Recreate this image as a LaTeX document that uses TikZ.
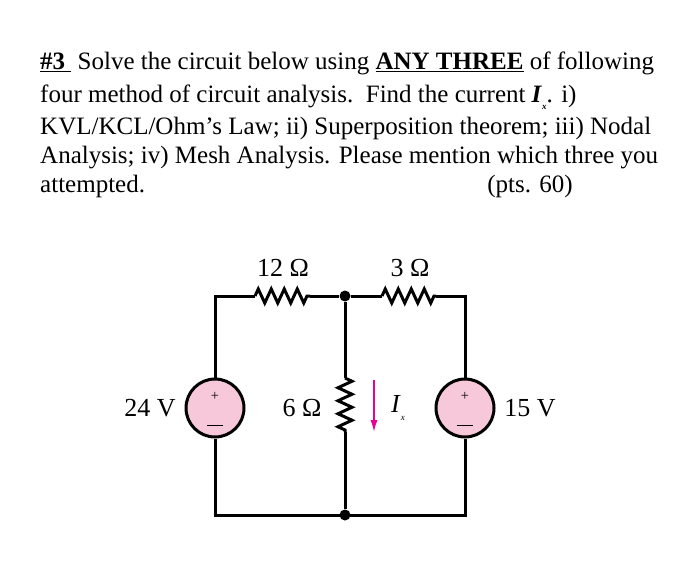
\documentclass[tikz,border=0pt]{standalone}
\usepackage{fontspec}
\setmainfont{Liberation Serif}
\usetikzlibrary{decorations.pathmorphing,arrows.meta}
\definecolor{srcpink}{RGB}{246,200,218}
\tikzset{
  txt/.style={anchor=base west,inner sep=0pt,font=\fontsize{25}{30}\selectfont},
  lbl/.style={inner sep=0pt,font=\fontsize{26}{30}\selectfont},
  wire/.style={line width=3pt},
  res/.style={line width=3pt,decorate,decoration={zigzag,segment length=13pt,amplitude=7pt}},
  src/.style={circle,draw,line width=3pt,fill=srcpink,minimum size=58pt,inner sep=0pt},
  dot/.style={circle,fill=black,minimum size=11pt,inner sep=0pt}
}
\begin{document}
\begin{tikzpicture}[x=1pt,y=-1pt]
\useasboundingbox (0,0) rectangle (700,577);
\node[txt] (l1) at (40,70) {\underline{\textbf{\#3\ }} Solve the circuit below using \underline{\textbf{ANY THREE}} of following};
\node[txt] (l2) at (40,103) {four method of circuit analysis.\ \ Find the current \textbf{\textit{I}}\raisebox{-0.25em}{\small\textbf{\textit{x}}}. i)};
\node[txt] (l3) at (40,135) {KVL/KCL/Ohm's Law; ii) Superposition theorem; iii) Nodal};
\node[txt] (l4) at (40,164) {Analysis; iv) Mesh Analysis. Please mention which three you};
\node[txt] (l5) at (40,193) {attempted.};
\node[txt,anchor=base east] (l6) at (573,193) {(pts. 60)};
% junctions
\coordinate (tl) at (215,296);
\coordinate (tr) at (465,296);
\coordinate (bl) at (215,515);
\coordinate (br) at (465,515);
\node[dot] (tm) at (345,296) {};
\node[dot] (bm) at (345,515) {};
\node[src] (v1) at (215,408) {};
\node[src] (v2) at (465,408) {};
\node[font=\Large] at ([yshift=12pt]v1.center) {+};
\node[font=\Large] at ([yshift=12pt]v2.center) {+};
\draw[line width=1pt] ([xshift=-8pt,yshift=-17pt]v1.center) -- ([xshift=8pt,yshift=-17pt]v1.center);
\draw[line width=1pt] ([xshift=-8pt,yshift=-17pt]v2.center) -- ([xshift=8pt,yshift=-17pt]v2.center);
\coordinate (r1a) at (255,296); \coordinate (r1b) at (310,296);
\coordinate (r2a) at (382,296); \coordinate (r2b) at (436,296);
\coordinate (r3a) at (345,378); \coordinate (r3b) at (345,432);
\draw[wire] (v1.north) -- (tl) -- (r1a);
\draw[res] (r1a) -- (r1b);
\draw[wire] (r1b) -- (tm) -- (r2a);
\draw[res] (r2a) -- (r2b);
\draw[wire] (r2b) -- (tr) -- (v2.north);
\draw[wire] (v1.south) -- (bl) -- (br) -- (v2.south);
\draw[wire] (tm) -- (r3a);
\draw[res] (r3a) -- (r3b);
\draw[wire] (r3b) -- (bm);
\node[lbl] (t12) at (283,268) {12 Ω};
\node[lbl] (t3) at (410,268) {3 Ω};
\node[lbl] (t6) at (302,408) {6 Ω};
\node[lbl] (t24) at (150,408) {24 V};
\node[lbl] (t15) at (530,408) {15 V};
\coordinate (ia) at (374,380); \coordinate (ib) at (374,432);
\draw[magenta,line width=1.5pt,-{Latex[length=12pt,width=7pt]}] (ia) -- (ib);
\node[lbl] (ix) at (398,408) {\textit{I}\raisebox{-0.3em}{\textit{\small x}}};
\end{tikzpicture}
\end{document}
